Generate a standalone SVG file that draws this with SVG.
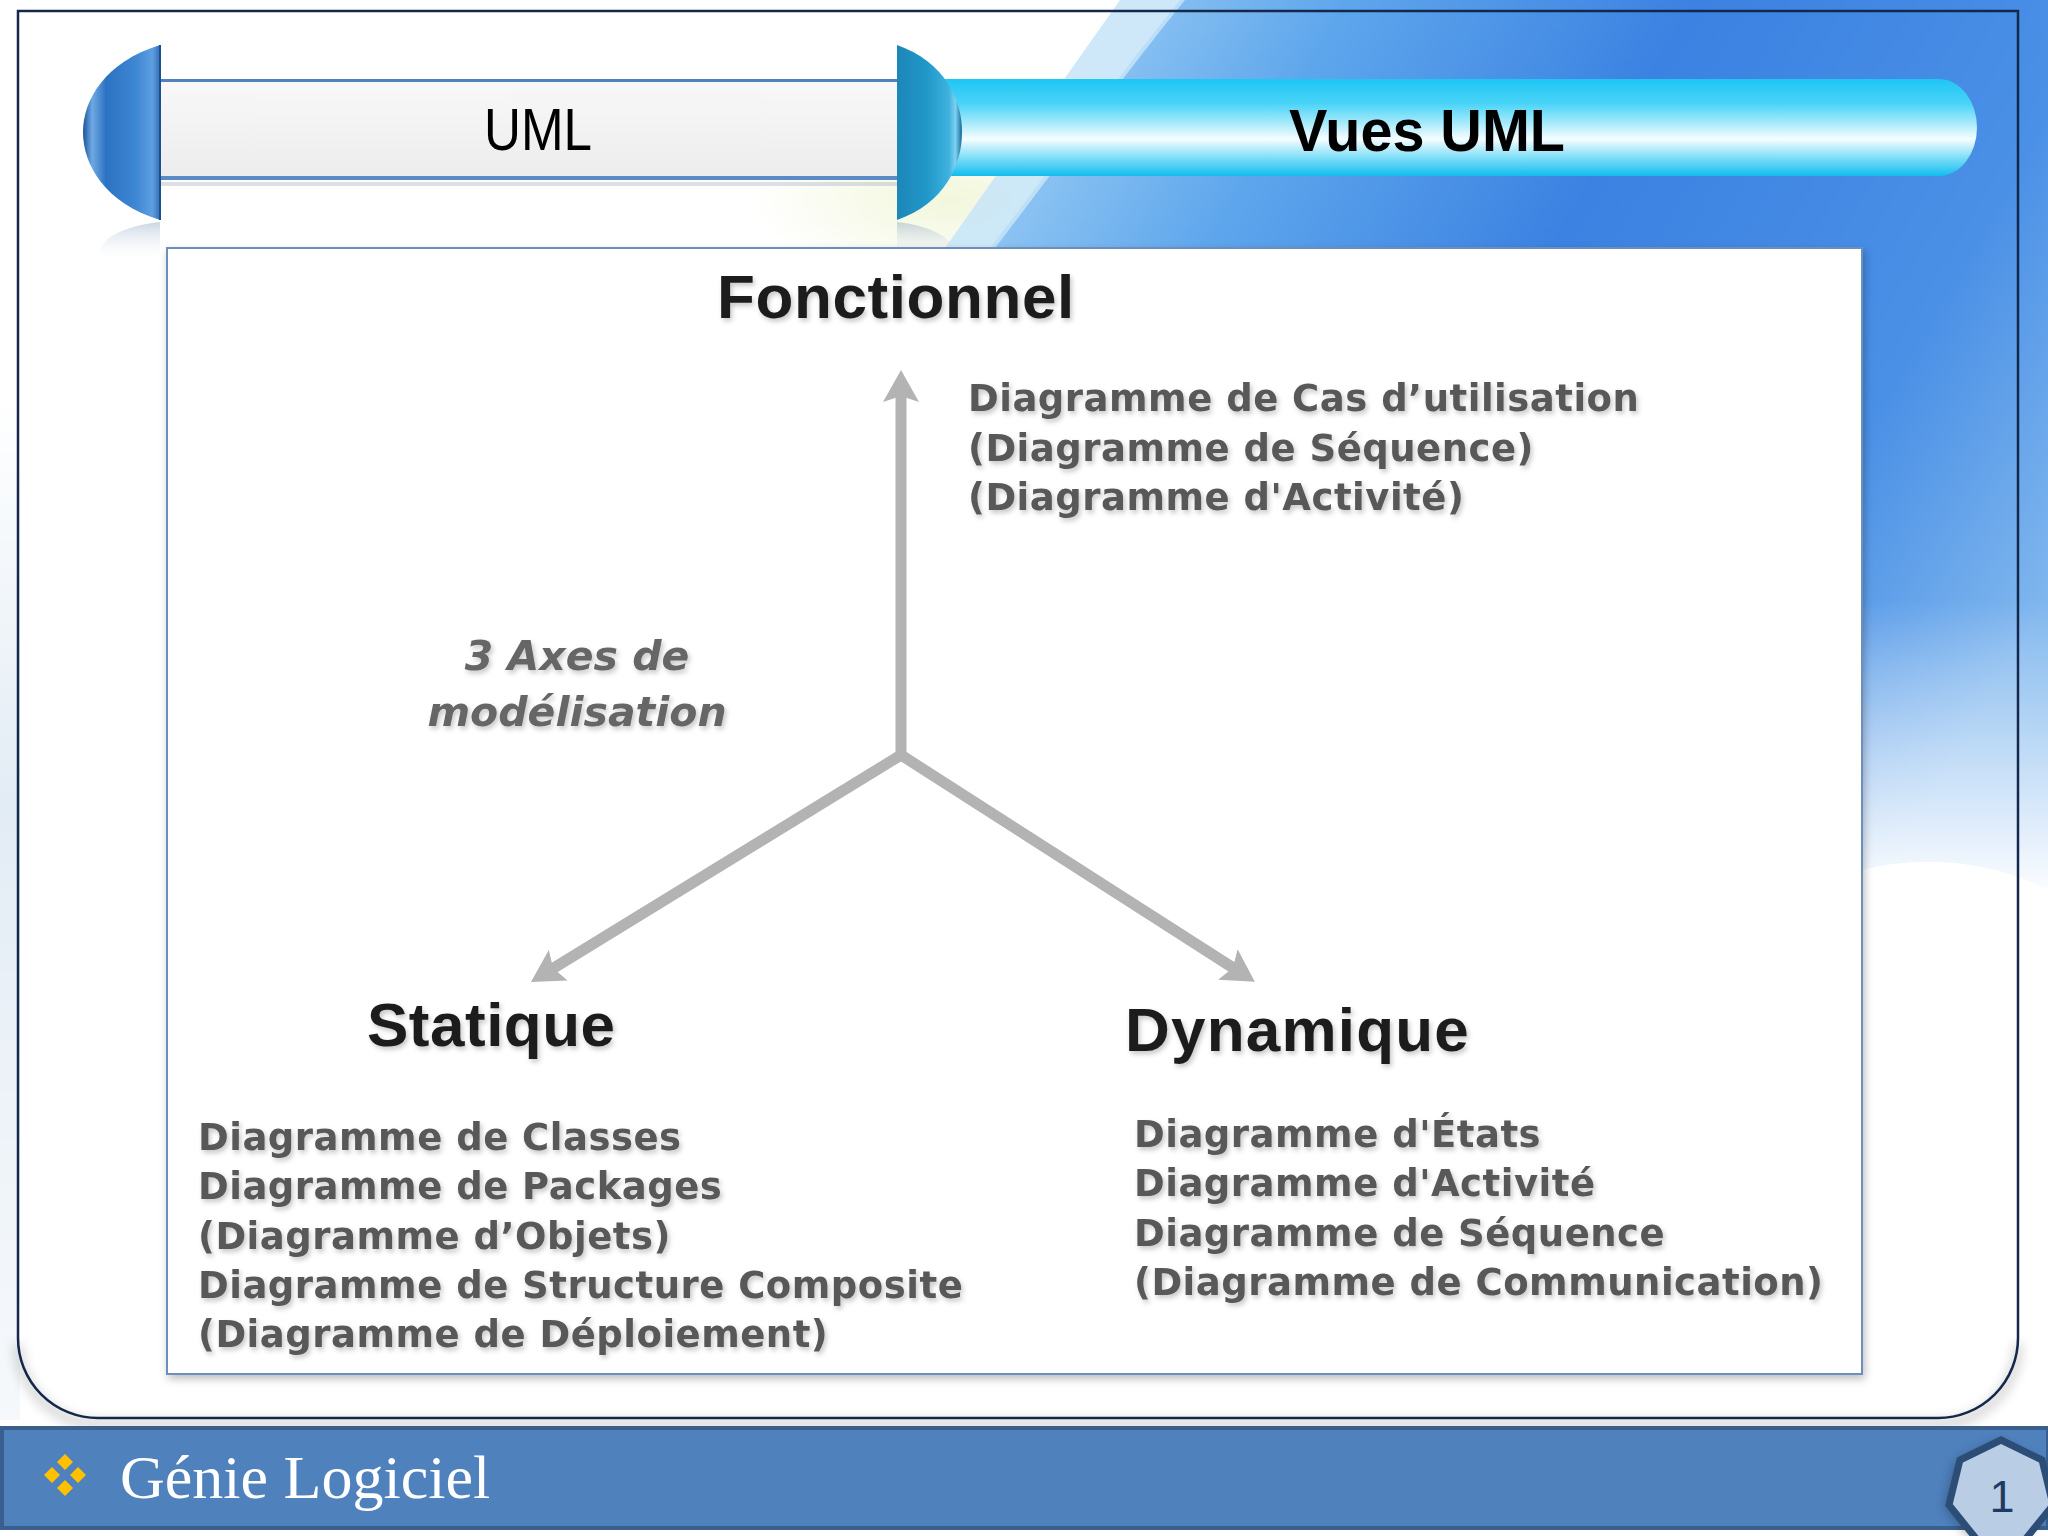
<svg xmlns="http://www.w3.org/2000/svg" width="2048" height="1536" viewBox="0 0 2048 1536">
<defs>
<style>
.hdr{font-family:"Liberation Sans",Arial,sans-serif;font-weight:bold;font-size:62px;fill:#1e1e1e;filter:url(#tsh)}
.item{font-family:"DejaVu Sans",Verdana,sans-serif;font-weight:bold;font-size:37px;fill:#595959;letter-spacing:0.5px;filter:url(#tsh)}
.axes{font-family:"DejaVu Sans",Verdana,sans-serif;font-weight:bold;font-style:italic;font-size:41px;fill:#666666;text-anchor:middle;filter:url(#tsh)}
.axis{fill:none;stroke:#b3b3b3;stroke-width:11;stroke-linecap:butt;stroke-linejoin:round}
.ttl{font-family:"Liberation Sans",Arial,sans-serif;font-size:60px;fill:#000}
</style>
<linearGradient id="blueBg" x1="1000" y1="0" x2="2048" y2="600" gradientUnits="userSpaceOnUse">
<stop offset="0" stop-color="#a9d6f6"/>
<stop offset="0.25" stop-color="#5ea6ec"/>
<stop offset="0.5" stop-color="#3b82e2"/>
<stop offset="0.8" stop-color="#4a90e6"/>
<stop offset="1" stop-color="#7fb6ee"/>
</linearGradient>
<linearGradient id="fadeW" x1="0" y1="600" x2="0" y2="900" gradientUnits="userSpaceOnUse">
<stop offset="0" stop-color="#ffffff" stop-opacity="0"/>
<stop offset="1" stop-color="#ffffff" stop-opacity="1"/>
</linearGradient>
<linearGradient id="leftEdge" x1="0" y1="400" x2="0" y2="1420" gradientUnits="userSpaceOnUse">
<stop offset="0" stop-color="#dbe7f2" stop-opacity="0"/>
<stop offset="0.4" stop-color="#dbe7f2" stop-opacity="0.8"/>
<stop offset="1" stop-color="#e8eff6" stop-opacity="0.4"/>
</linearGradient>
<radialGradient id="yellowTint" cx="0.5" cy="0.5" r="0.5">
<stop offset="0" stop-color="#eef5d2" stop-opacity="0.8"/>
<stop offset="1" stop-color="#eef5d2" stop-opacity="0"/>
</radialGradient>
<linearGradient id="leftBar" x1="0" y1="0" x2="0" y2="1">
<stop offset="0" stop-color="#f8f8f8"/>
<stop offset="1" stop-color="#ececec"/>
</linearGradient>
<linearGradient id="rightBar" x1="0" y1="79" x2="0" y2="176" gradientUnits="userSpaceOnUse">
<stop offset="0" stop-color="#1fc6f4"/>
<stop offset="0.25" stop-color="#48d3f7"/>
<stop offset="0.45" stop-color="#a5eafb"/>
<stop offset="0.62" stop-color="#f6fdff"/>
<stop offset="0.82" stop-color="#79dcf7"/>
<stop offset="1" stop-color="#12bdee"/>
</linearGradient>
<linearGradient id="capL" x1="83" y1="0" x2="160" y2="0" gradientUnits="userSpaceOnUse">
<stop offset="0" stop-color="#1b549a"/>
<stop offset="0.12" stop-color="#6fa9e4"/>
<stop offset="0.3" stop-color="#2c72c2"/>
<stop offset="0.7" stop-color="#3f88d4"/>
<stop offset="0.9" stop-color="#5f9fe0"/>
<stop offset="1" stop-color="#3470b8"/>
</linearGradient>
<linearGradient id="capR" x1="897" y1="0" x2="962" y2="0" gradientUnits="userSpaceOnUse">
<stop offset="0" stop-color="#1e86b8"/>
<stop offset="0.45" stop-color="#1f97c8"/>
<stop offset="0.8" stop-color="#3fb2de"/>
<stop offset="0.9" stop-color="#7fd0f0"/>
<stop offset="1" stop-color="#14689a"/>
</linearGradient>
<linearGradient id="refl" x1="0" y1="0" x2="0" y2="1">
<stop offset="0" stop-color="#9fb4cc" stop-opacity="0.55"/>
<stop offset="1" stop-color="#ffffff" stop-opacity="0"/>
</linearGradient>
<filter id="tsh" x="-10%" y="-30%" width="120%" height="160%">
<feDropShadow dx="2" dy="3" stdDeviation="2.5" flood-color="#000" flood-opacity="0.22"/>
</filter>
<filter id="bsh" x="-5%" y="-5%" width="110%" height="110%">
<feDropShadow dx="2" dy="4" stdDeviation="4" flood-color="#000" flood-opacity="0.25"/>
</filter>
<filter id="blur6"><feGaussianBlur stdDeviation="6"/></filter>
<marker id="arr" viewBox="-14 -20 36 40" refX="0" refY="0" markerWidth="36" markerHeight="40" markerUnits="userSpaceOnUse" orient="auto">
<path d="M20,0 L-12,-18 L-6,0 L-12,18 Z" fill="#b3b3b3"/>
</marker>
</defs>

<g id="background">
<rect x="0" y="0" width="2048" height="1536" fill="#ffffff"/>
<rect x="0" y="400" width="20" height="1020" fill="url(#leftEdge)"/>
<ellipse cx="950" cy="200" rx="200" ry="80" fill="url(#yellowTint)"/>
<path d="M1180,0 L2048,0 L2048,890 C1990,860 1920,855 1862,870 L1862,248 L990,248 C1050,170 1115,80 1180,0 Z" fill="url(#blueBg)"/>
<path d="M1120,0 L1185,0 C1120,80 1055,170 995,248 L945,248 C1000,170 1060,85 1120,0 Z" fill="#c6e4f8" opacity="0.85"/>
<rect x="1862" y="600" width="186" height="300" fill="url(#fadeW)"/>
</g>

<g id="frame">
<path d="M18,1338 A80,80 0 0 0 98,1418 L1938,1418 A80,80 0 0 0 2018,1338" fill="none" stroke="#000" stroke-opacity="0.25" stroke-width="6" filter="url(#blur6)" transform="translate(0,6)"/>
<path d="M18,11 L2018,11 L2018,1338 A80,80 0 0 1 1938,1418 L98,1418 A80,80 0 0 1 18,1338 Z" fill="none" stroke="#14284b" stroke-width="2.5"/>
</g>

<g id="title-left">
<rect x="158" y="79" width="742" height="101" fill="url(#leftBar)"/>
<line x1="158" y1="80.5" x2="900" y2="80.5" stroke="#4f81bd" stroke-width="3"/>
<line x1="158" y1="178" x2="900" y2="178" stroke="#5a8bc7" stroke-width="4"/>
<line x1="158" y1="184" x2="900" y2="184" stroke="#9aa9bb" stroke-width="4" opacity="0.35"/>
<text class="ttl" x="484" y="150" textLength="108" lengthAdjust="spacingAndGlyphs">UML</text>
</g>

<g id="title-right">
<path d="M900,79 L1939,79 A38,48.5 0 0 1 1939,176 L900,176 Z" fill="url(#rightBar)"/>
<text class="ttl" x="1289" y="151" font-weight="bold" textLength="276" lengthAdjust="spacingAndGlyphs">Vues UML</text>
</g>

<g id="caps">
<path d="M160,222 C110,228 95,245 100,262 L160,262 Z" fill="url(#refl)"/>
<path d="M897,222 C945,228 958,245 955,262 L897,262 Z" fill="url(#refl)"/>
<path d="M160,45 C105,62 83,100 83,132 C83,165 105,203 160,220 Z" fill="url(#capL)"/>
<line x1="160" y1="45" x2="160" y2="220" stroke="#1c4f8f" stroke-width="2"/>
<path d="M897,45 C945,62 962,100 962,132 C962,165 945,203 897,220 Z" fill="url(#capR)"/>
</g>

<g id="content-box">
<rect x="167" y="248" width="1695" height="1126" fill="#ffffff" stroke="#6d8fbf" stroke-width="2" filter="url(#bsh)"/>
</g>

<g id="connectors">
<path class="axis" d="M901,760 L901,390" marker-end="url(#arr)"/>
<path class="axis" d="M901,755 L548,971.5" marker-end="url(#arr)"/>
<path class="axis" d="M901,755 L1238,971" marker-end="url(#arr)"/>
</g>

<g id="node-fonctionnel">
<text class="hdr" x="717" y="318" letter-spacing="0.6">Fonctionnel</text>
<text class="item" x="968" y="411">Diagramme de Cas d’utilisation</text>
<text class="item" x="968" y="461">(Diagramme de Séquence)</text>
<text class="item" x="968" y="510">(Diagramme d'Activité)</text>
</g>

<g id="label-axes">
<text class="axes" x="577" y="670">3 Axes de</text>
<text class="axes" x="577" y="726">modélisation</text>
</g>

<g id="node-statique">
<text class="hdr" x="367" y="1046" letter-spacing="0.5">Statique</text>
<text class="item" x="198" y="1150">Diagramme de Classes</text>
<text class="item" x="198" y="1199">Diagramme de Packages</text>
<text class="item" x="198" y="1249">(Diagramme d’Objets)</text>
<text class="item" x="198" y="1298">Diagramme de Structure Composite</text>
<text class="item" x="198" y="1347">(Diagramme de Déploiement)</text>
</g>

<g id="node-dynamique">
<text class="hdr" x="1125" y="1051" letter-spacing="1.2">Dynamique</text>
<text class="item" x="1134" y="1147">Diagramme d'États</text>
<text class="item" x="1134" y="1196">Diagramme d'Activité</text>
<text class="item" x="1134" y="1246">Diagramme de Séquence</text>
<text class="item" x="1134" y="1295">(Diagramme de Communication)</text>
</g>

<g id="footer">
<rect x="2" y="1428" width="2046" height="100" fill="#4f81bd" stroke="#3a5f8f" stroke-width="4"/>
<g fill="#ffc000">
<path d="M65,1454 L73,1462 L65,1470 L57,1462 Z"/>
<path d="M52,1467 L60,1475 L52,1483 L44,1475 Z"/>
<path d="M78,1467 L86,1475 L78,1483 L70,1475 Z"/>
<path d="M65,1480 L73,1488 L65,1496 L57,1488 Z"/>
</g>
<text x="120" y="1498" font-family="'Liberation Serif','Times New Roman',serif" font-size="62" fill="#ffffff">Génie Logiciel</text>
</g>

<g id="page-number">
<polygon points="2001,1440 2042,1460 2053,1505 2024,1541 1978,1541 1949,1505 1960,1460" fill="#000" opacity="0.3" filter="url(#blur6)" transform="translate(-4,2)"/>
<polygon points="2001,1440 2042,1460 2053,1505 2024,1541 1978,1541 1949,1505 1960,1460" fill="#b9cde5" stroke="#2c4d75" stroke-width="7" stroke-linejoin="miter"/>
<text x="2002" y="1512" font-family="'Liberation Sans',Arial,sans-serif" font-size="45" fill="#1f3b63" text-anchor="middle">1</text>
</g>
</svg>
